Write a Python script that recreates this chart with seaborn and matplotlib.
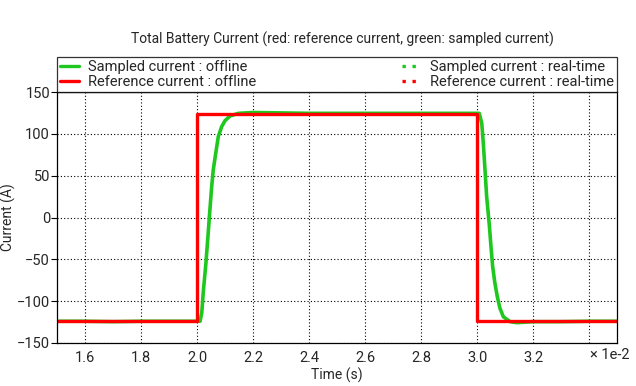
import matplotlib
matplotlib.use("Agg")
import matplotlib.pyplot as plt
from matplotlib.lines import Line2D
import seaborn as sns
import pandas as pd

# Reference current (step)
ref_time = [1.5, 2.0, 3.0, 3.5]
ref_current = [-124, 124, -124, -124]

# Sampled current
samp_time = [1.50, 1.60, 1.70, 1.80, 1.90, 2.005, 2.011, 2.017, 2.0225, 2.032, 2.040, 2.046,
             2.052, 2.058, 2.067, 2.076, 2.088, 2.100, 2.118, 2.148, 2.20, 2.30, 2.40,
             2.50, 2.60, 2.70, 2.80, 2.90, 2.995, 3.008, 3.017, 3.0225, 3.0286, 3.0345,
             3.044, 3.050, 3.056, 3.064, 3.0725, 3.082, 3.094, 3.118, 3.142, 3.20, 3.30,
             3.40, 3.50]
samp_current = [-124, -124, -124.5, -124, -124, -124, -124, -114, -88.7, -54, -18.5, 9,
                35, 56.8, 77, 96.6, 108.5, 115.7, 121.3, 124.5, 125.5, 125, 124.5,
                124.5, 124.5, 124.5, 124.5, 124.5, 124.5, 124.5, 112.6, 88.7, 56.8, 25,
                -9, -35, -58.8, -78.6, -94.6, -108.5, -118.6, -124.5, -125.7, -124.5, -124.5,
                -124, -124]

x_ticks = [1.6, 1.8, 2.0, 2.2, 2.4, 2.6, 2.8, 3.0, 3.2, 3.4]
x_tick_labels = ["1.6", "1.8", "2.0", "2.2", "2.4", "2.6", "2.8", "3.0", "3.2", ""]
y_ticks = [-150, -100, -50, 0, 50, 100, 150]

GREEN = "#1ec81e"
RED = "#ff0000"

sns.set_style("white")
plt.rcParams['font.family'] = ['Roboto', 'DejaVu Sans']

fig = plt.figure(figsize=(6.36, 3.86), dpi=100)
ax = fig.add_axes([57/636, 1-343/386, (617-57)/636, (343-92)/386])

samp_df = pd.DataFrame({"t": samp_time, "i": samp_current})
ref_df = pd.DataFrame({"t": ref_time, "i": ref_current})

sns.lineplot(data=samp_df, x="t", y="i", ax=ax, color=GREEN, lw=2.6,
             estimator=None, sort=False)
sns.lineplot(data=ref_df, x="t", y="i", ax=ax, color=RED, lw=2.4,
             estimator=None, sort=False, drawstyle="steps-post")

ax.set_xlim(1.5, 3.5)
ax.set_ylim(-150, 150)
ax.set_xticks(x_ticks)
ax.set_xticklabels(x_tick_labels)
ax.set_yticks(y_ticks)
ax.grid(True, color="black", linestyle=(0, (1, 2)), linewidth=0.8)
ax.tick_params(axis="x", length=0, pad=6, labelsize=10.5)
ax.tick_params(axis="y", length=4, width=0.8, color="black", labelsize=10.5, pad=1, left=True)
for s in ax.spines.values():
    s.set_color("black")
    s.set_linewidth(0.9)

ax.set_xlabel("Time (s)", fontsize=10, labelpad=2)
ax.set_ylabel("Current (A)", fontsize=10, labelpad=1)

fig.text(610/636, 1-355/386, "× 1e-2", ha="center", va="center", fontsize=10.5)
fig.text(342/636, 1-39/386, "Total Battery Current (red: reference current, green: sampled current)",
         ha="center", va="center", fontsize=10)

handles = [
    Line2D([], [], color=GREEN, lw=2.4),
    Line2D([], [], color=RED, lw=2.4),
    Line2D([], [], color=GREEN, lw=2.4, linestyle=(0, (1, 2))),
    Line2D([], [], color=RED, lw=2.4, linestyle=(0, (1, 2))),
]
labels = ["Sampled current : offline", "Reference current : offline",
          "Sampled current : real-time", "Reference current : real-time"]
leg = ax.legend(handles, labels, ncol=2, mode="expand", loc="lower left",
                bbox_to_anchor=(0, 1, 1, 44/251), borderaxespad=0, fontsize=10.5,
                frameon=True, fancybox=False, edgecolor="black", handlelength=1.3,
                handletextpad=0.6, labelspacing=0.1, borderpad=0.2)
leg.get_frame().set_linewidth(0.9)

fig.savefig("out.png", dpi=100)
